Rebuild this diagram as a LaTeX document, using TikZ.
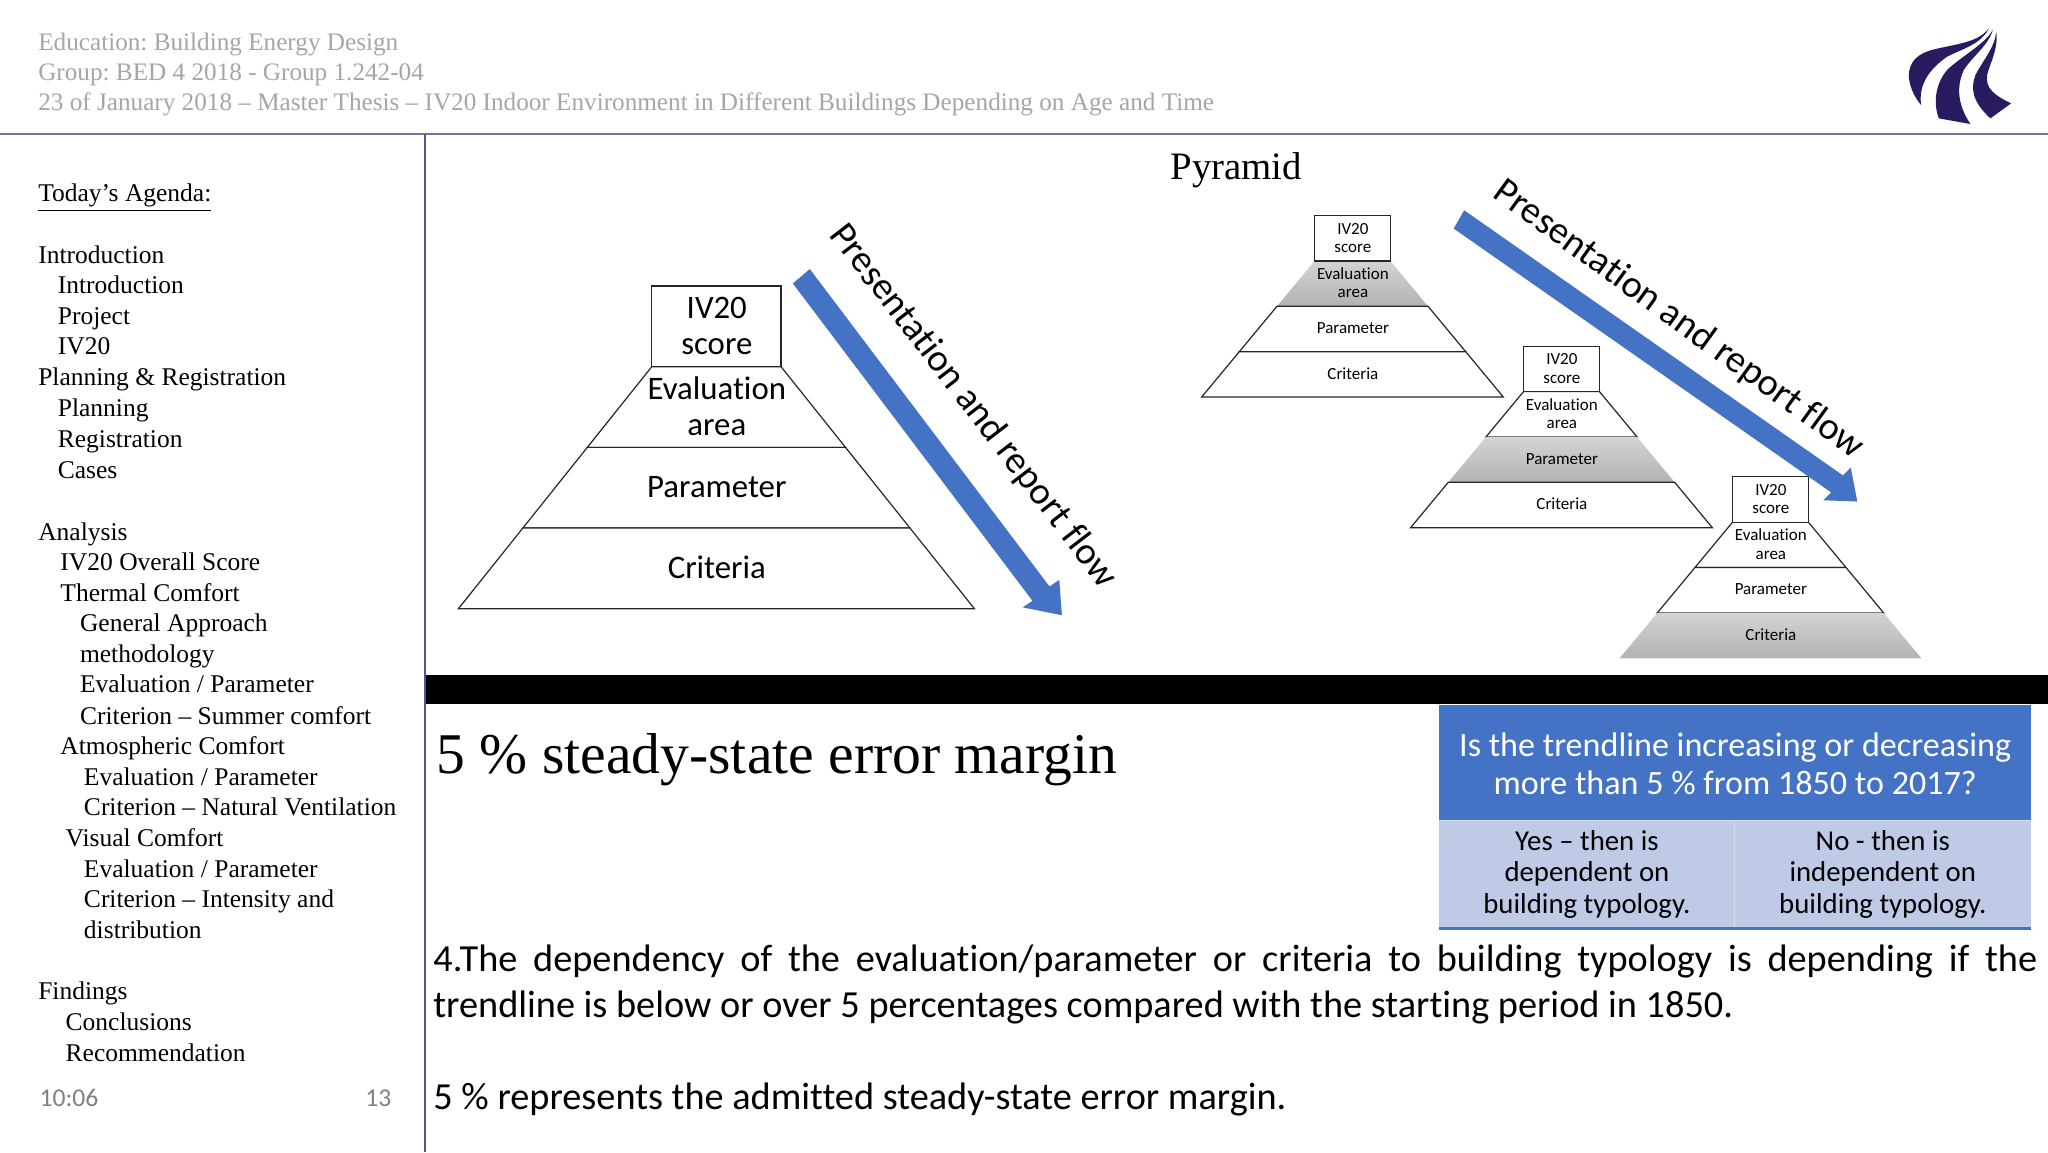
\documentclass[tikz,border=0pt]{standalone}
\usepackage{fontspec}
\setmainfont{Liberation Serif}
\newfontfamily\cali[Ligatures=NoCommon]{Carlito}
\usetikzlibrary{calc}
\frenchspacing
\definecolor{hdgray}{HTML}{A6A6A6}
\definecolor{rulecol}{HTML}{6B7A99}
\definecolor{vrule}{HTML}{4F5599}
\definecolor{blueA}{HTML}{4472C4}
\definecolor{blueB}{HTML}{BFCAE6}
\definecolor{logoc}{HTML}{2A1B60}
\newcommand\fs[2]{\fontsize{#1}{#2}\selectfont}
\tikzset{
 hd/.style={anchor=base west,inner sep=0pt,text=hdgray,font=\fs{12.6}{16}},
 ag/.style={anchor=base west,inner sep=0pt,text=black,font=\fs{12.75}{16}},
 foot/.style={anchor=base west,inner sep=0pt,text=black!50,font=\cali\fs{12.8}{15}},
 layer/.style={draw=black!85,line width=0.6pt,fill=white},
 grayl/.style={draw=none,top color=black!17,bottom color=black!30},
 bigt/.style={inner sep=0pt,align=center,font=\cali\fs{16.4}{18.3}},
 smallt/.style={inner sep=0pt,align=center,font=\cali\fs{8.5}{9.15}},
 flowarrow/.style={fill=blueA,draw=none},
 flowtext/.style={inner sep=0pt,font=\cali\fs{19.1}{22}},
 tablehead/.style={inner sep=0pt,align=center,text=white,font=\cali\fs{17.05}{19}},
 tablecell/.style={inner sep=0pt,align=center,text=black,font=\cali\fs{14.4}{15.7}},
 bodyt/.style={anchor=base west,inner sep=0pt,font=\cali\fs{19.15}{23}},
}
% #1 prefix, #2 cx, #3 top y, #4 box half w, #5 height, #6 delta, #7 style, #8 shaded layer (1..3)
\newcommand\pyr[8]{%
 \pgfmathsetmacro\pcx{#2}\pgfmathsetmacro\pya{#3+#5}\pgfmathsetmacro\pyb{#3+2*#5}\pgfmathsetmacro\pyc{#3+3*#5}\pgfmathsetmacro\pyd{#3+4*#5}%
 \pgfmathsetmacro\pwa{#4}\pgfmathsetmacro\pwb{#4+#6}\pgfmathsetmacro\pwc{#4+2*#6}\pgfmathsetmacro\pwd{#4+3*#6}%
 \ifnum#8=1\def\psa{grayl}\else\def\psa{layer}\fi
 \ifnum#8=2\def\psb{grayl}\else\def\psb{layer}\fi
 \ifnum#8=3\def\psc{grayl}\else\def\psc{layer}\fi
 \path[\psa] (\pcx-\pwa,\pya)--(\pcx+\pwa,\pya)--(\pcx+\pwb,\pyb)--(\pcx-\pwb,\pyb)--cycle;
 \path[\psb] (\pcx-\pwb,\pyb)--(\pcx+\pwb,\pyb)--(\pcx+\pwc,\pyc)--(\pcx-\pwc,\pyc)--cycle;
 \path[\psc] (\pcx-\pwc,\pyc)--(\pcx+\pwc,\pyc)--(\pcx+\pwd,\pyd)--(\pcx-\pwd,\pyd)--cycle;
 \path[layer] (\pcx-\pwa,#3) rectangle (\pcx+\pwa,\pya);
 \node[#7] (#1s) at (\pcx+0.3,{#3+0.5*#5-0.3}) {IV20\\score};
 \node[#7] (#1e) at (\pcx+0.3,{#3+1.5*#5-0.5}) {Evaluation\\area};
 \node[#7] (#1p) at (\pcx+0.3,{#3+2.5*#5-0.6}) {Parameter};
 \node[#7] (#1c) at (\pcx+0.3,{#3+3.5*#5-0.6}) {Criteria};
}
\begin{document}
\begin{tikzpicture}[x=0.65306pt,y=-0.65306pt]
\useasboundingbox (0,0) rectangle (1568,882);
\fill[white] (0,0) rectangle (1568,882);
% header
\node[hd] (h1) at (29,38.5) {Education: Building Energy Design};
\node[hd] (h2) at (29,61.5) {Group: BED 4 2018 - Group 1.242-04};
\node[hd] (h3) at (29,84.5) {23 of January 2018 – Master Thesis – IV20 Indoor Environment in Different Buildings Depending on Age and Time};
\draw[rulecol,line width=0.8pt] (0,102.5) -- (1568,102.5);
\draw[vrule,line width=0.8pt] (325.5,102.5) -- (325.5,882);
% logo
\begin{scope}[x=0.1667pt,y=-0.1667pt,shift={(5550,0)}]
\fill[logoc] (415,85) .. controls (385,125) and (330,130) .. (255,147) .. controls (200,160) and (175,185) .. (175,230) .. controls (178,265) and (195,295) .. (212,315) .. controls (205,265) and (225,215) .. (290,170) .. controls (340,145) and (395,130) .. (415,85) -- cycle;
\fill[logoc] (427,90) .. controls (405,130) and (340,165) .. (295,205) .. controls (260,240) and (245,300) .. (265,355) -- (360,372) .. controls (325,320) and (315,265) .. (340,210) .. controls (365,170) and (415,135) .. (427,90) -- cycle;
\fill[logoc] (437,95) .. controls (435,140) and (395,185) .. (375,225) .. controls (360,265) and (365,305) .. (420,355) -- (482,310) .. controls (430,285) and (405,265) .. (410,225) .. controls (420,185) and (445,145) .. (437,95) -- cycle;
\end{scope}
% agenda
\node[ag] (a0) at (29,154.5) {\underline{Today’s Agenda:}};
\node[ag] (a1) at (29,201.5) {Introduction};
\node[ag] (a2) at (44,224.5) {Introduction};
\node[ag] (a3) at (44,248.5) {Project};
\node[ag] (a4) at (44,271.5) {IV20};
\node[ag] (a5) at (29,295.5) {Planning \& Registration};
\node[ag] (a6) at (44,318.5) {Planning};
\node[ag] (a7) at (44,342.5) {Registration};
\node[ag] (a8) at (44,366) {Cases};
\node[ag] (a9) at (29,413.5) {Analysis};
\node[ag] (a10) at (46,436.5) {IV20 Overall Score};
\node[ag] (a11) at (46,460.5) {Thermal Comfort};
\node[ag] (a12) at (61,483.5) {General Approach};
\node[ag] (a13) at (61,507) {methodology};
\node[ag] (a14) at (61,530.5) {Evaluation / Parameter};
\node[ag] (a15) at (61,554.5) {Criterion – Summer comfort};
\node[ag] (a16) at (46,577.5) {Atmospheric Comfort};
\node[ag] (a17) at (64,601.5) {Evaluation / Parameter};
\node[ag] (a18) at (64,624.5) {Criterion – Natural Ventilation};
\node[ag] (a19) at (50,648) {Visual Comfort};
\node[ag] (a20) at (64,671.5) {Evaluation / Parameter};
\node[ag] (a21) at (64,695) {Criterion – Intensity and};
\node[ag] (a22) at (64,718.5) {distribution};
\node[ag] (a23) at (29,765.5) {Findings};
\node[ag] (a24) at (50,789) {Conclusions};
\node[ag] (a25) at (50,812.5) {Recommendation};
\node[foot] (f1) at (30,847.5) {10:06};
\node[foot] (f2) at (279.5,847.5) {13};
% pyramid title
\node[anchor=base,inner sep=0pt,font=\fs{19.4}{23}] (ttl) at (946.5,137.5) {Pyramid};
% pyramids
\pyr{m}{548.5}{219}{49.5}{61.75}{49.33}{bigt}{0}
\pyr{x}{1035.5}{165}{29}{34.75}{28.83}{smallt}{1}
\pyr{y}{1195.5}{265}{29}{34.75}{28.83}{smallt}{2}
\pyr{z}{1355.5}{365}{29}{34.75}{28.83}{smallt}{3}
% arrows
\fill[flowarrow] (620,206) -- (803.5,449) -- (811,444) -- (813,471) -- (783,465) -- (790.5,460) -- (607,217) -- cycle;
\fill[flowarrow] (1121,161) -- (1411,364) -- (1417,358) -- (1422,384) -- (1396,383) -- (1402,377) -- (1113,175) -- cycle;
\node[flowtext,rotate=-52.4] (ft1) at (745,311) {Presentation and report flow};
\node[flowtext,rotate=-36] (ft2) at (1285,245) {Presentation and report flow};
% bar
\fill[black] (326,517) rectangle (1568,539);
% heading
\node[anchor=base west,inner sep=0pt,font=\fs{28.8}{36}] (big) at (334,592) {5 \% steady-state error margin};
% table
\fill[blueA] (1102,540) rectangle (1555,628);
\fill[blueB] (1102,628) rectangle (1555,710);
\draw[white!35!blueB,line width=0.5pt] (1102,628.5) -- (1555,628.5);
\draw[white!35!blueB,line width=0.5pt] (1328,629) -- (1328,710);
\fill[blueA] (1102,710) rectangle (1555,712);
\node[tablehead] (t0) at (1328.5,585) {Is the trendline increasing or decreasing\\more than 5 \% from 1850 to 2017?};
\node[tablecell] (t1) at (1215,669.5) {Yes – then is\\dependent on\\building typology.};
\node[tablecell] (t2) at (1441.5,669.5) {No - then is\\independent on\\building typology.};
% body
\node[bodyt,text width=802pt,align=justify] (b1) at (331.5,744) {4.The dependency of the evaluation/parameter or criteria to building typology is depending if the\linebreak trendline is below or over 5 percentages compared with the starting period in 1850.};
\node[bodyt] (b2) at (331.5,849.5) {5 \% represents the admitted steady-state error margin.};
\end{tikzpicture}
\end{document}
